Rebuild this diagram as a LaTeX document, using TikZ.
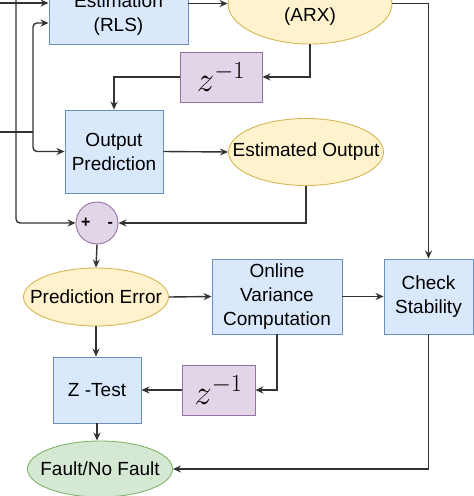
\documentclass[tikz,border=0pt]{standalone}
\usepackage{fix-cm}
\usepackage{fontspec}
\setmainfont{Liberation Sans}
\usetikzlibrary{arrows.meta,shapes.geometric}

\definecolor{blfill}{HTML}{DAE8FC}
\definecolor{bldraw}{HTML}{6C8EBF}
\definecolor{yefill}{HTML}{FFF2CC}
\definecolor{yedraw}{HTML}{D6B656}
\definecolor{pufill}{HTML}{E1D5E7}
\definecolor{pudraw}{HTML}{9673A6}
\definecolor{grfill}{HTML}{D5E8D4}
\definecolor{grdraw}{HTML}{82B366}
\definecolor{wirec}{HTML}{333333}

\begin{document}
\begin{tikzpicture}[x=1pt, y=-1pt, >={Stealth[length=8pt,width=7pt]},
  every node/.style={font=\fontsize{19}{24}\selectfont, align=center},
  box/.style={draw=bldraw, fill=blfill, line width=0.9pt, inner sep=0pt},
  oval/.style={ellipse, draw=yedraw, fill=yefill, line width=0.9pt, inner xsep=-25pt, inner ysep=0pt},
  delay/.style={draw=pudraw, fill=pufill, line width=0.9pt, inner sep=0pt, font=\fontsize{35}{40}\selectfont},
  wire/.style={draw=wirec, line width=1.4pt}]
  \useasboundingbox (0,0) rectangle (474,496);
  \clip (0,0) rectangle (474,496);

  % blocks
  \node[box, minimum width=139pt, minimum height=59pt] (est) at (118.5,14.5) {Estimation\\(RLS)};
  \node[oval, minimum width=164pt, minimum height=81pt] (arx) at (310,3.5) {\strut\\(ARX)};
  \node[delay, minimum width=82pt, minimum height=50pt] (zup) at (221,77) {$z^{-1}$};
  \node[box, minimum width=98pt, minimum height=83pt] (op) at (114,151.5) {Output\\Prediction};
  \node[oval, minimum width=155pt, minimum height=67pt] (eo) at (306,152) {Estimated Output};
  \node[circle, draw=pudraw, fill=pufill, line width=0.9pt, inner sep=0pt, minimum size=42pt,
        font=\fontsize{16}{18}\selectfont\bfseries] (sum) at (97,223) {+\hspace{17pt}-};
  \node[oval, minimum width=145pt, minimum height=58pt] (pe) at (96,297) {Prediction Error};
  \node[box, minimum width=130pt, minimum height=75pt] (ovc) at (277,296.5) {Online\\Variance\\Computation};
  \node[box, minimum width=89pt, minimum height=75pt] (cs) at (428.5,296.5) {Check\\Stability};
  \node[box, minimum width=88pt, minimum height=66pt] (zt) at (97,390) {Z -Test};
  \node[delay, minimum width=73pt, minimum height=50pt] (zlo) at (218.5,390) {$z^{-1}$};
  \node[oval, fill=grfill, draw=grdraw, minimum width=145pt, minimum height=56pt] (flt) at (100,469) {Fault/No Fault};

  % inputs from the left
  \coordinate (in1) at (0,3);
  \coordinate (in2) at (0,132);
  \coordinate (ytop) at (16,0);
  \coordinate (j) at (33,132);

  % connectors
  \draw[wire, ->] (in1) -- (in1 -| est.west);
  \draw[wire, ->, rounded corners=4pt] (ytop) |- (sum.west);
  \draw[wire] (in2) -- (j);
  \draw[wire, ->, rounded corners=4pt] (j) |- ([yshift=-8.5pt]est.west);
  \draw[wire, ->, rounded corners=4pt] (j) |- (op.west);
  \draw[wire, ->] (arx.west -| est.east) -- (arx.west);
  \draw[wire, ->] (arx.east) -| (cs.north);
  \draw[wire, ->] (arx.south) |- (zup.east);
  \draw[wire, ->] (zup.west) -| (op.north);
  \draw[wire, ->] (op.east) -- (eo.west);
  \draw[wire, ->] (eo.south) |- (sum.east);
  \draw[wire, ->] (sum.south) -- (pe.north);
  \draw[wire, ->] (pe.east) -- (ovc.west);
  \draw[wire, ->] (ovc.east) -- (cs.west);
  \draw[wire, ->] (ovc.south) |- (zlo.east);
  \draw[wire, ->] (zlo.west) -- (zt.east);
  \draw[wire, ->] (pe.south) -- (pe.south |- zt.north);
  \draw[wire, ->] (zt.south) -- (zt.south |- flt.north);
  \draw[wire, ->] (cs.south) |- (flt.east);
\end{tikzpicture}
\end{document}
